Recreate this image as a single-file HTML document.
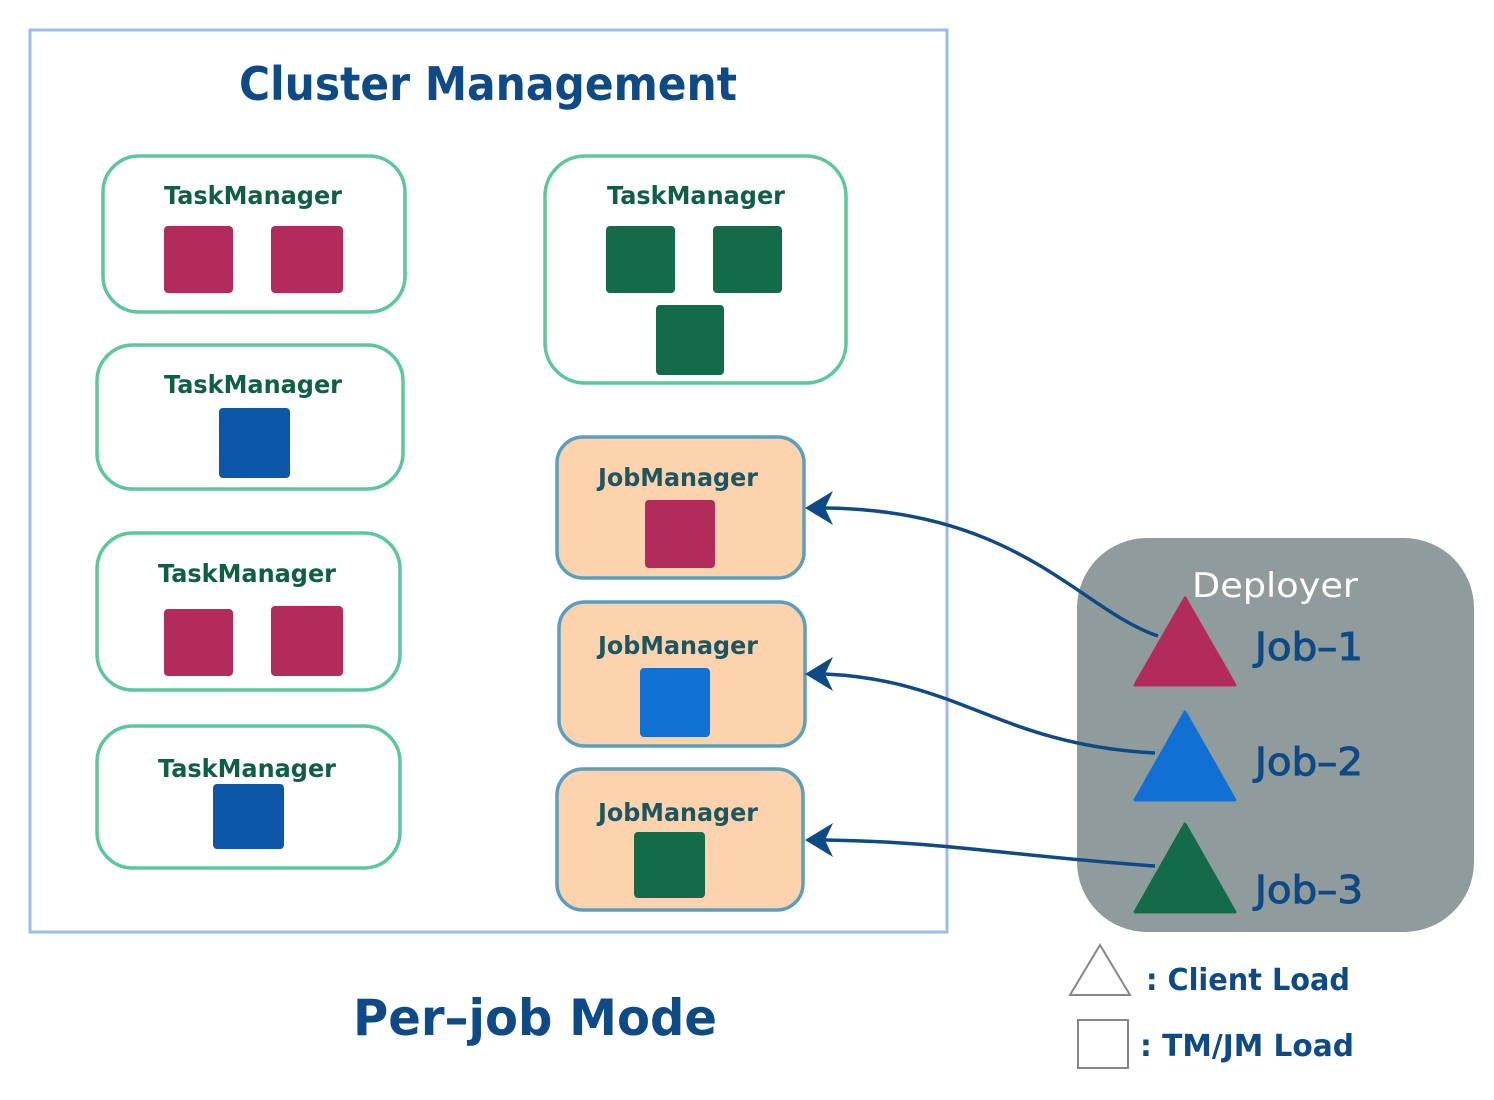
<!DOCTYPE html>
<html><head><meta charset="utf-8"><style>html,body{margin:0;padding:0;background:#fff;}svg{display:block}</style></head>
<body>
<svg width="1494" height="1100" viewBox="0 0 1494 1100" xmlns="http://www.w3.org/2000/svg" font-family="'DejaVu Sans','Liberation Sans',sans-serif" font-weight="bold">
<rect x="30" y="30" width="917" height="902" fill="#fff" stroke="#9bbcee" stroke-width="3"/>
<text x="488" y="100" text-anchor="middle" font-size="46" fill="#0d4a86" textLength="498" lengthAdjust="spacingAndGlyphs">Cluster Management</text>

<g fill="#fff" stroke="#5cc79d" stroke-width="3.5">
<rect x="103" y="156" width="302" height="156" rx="36"/>
<rect x="97" y="345" width="306" height="144" rx="36"/>
<rect x="97" y="533" width="303" height="157" rx="36"/>
<rect x="97" y="726" width="303" height="142" rx="36"/>
<rect x="545" y="156" width="301" height="227" rx="40"/>
</g>
<g fill="#fdd3ad" stroke="#5b9ebe" stroke-width="3.5">
<rect x="557" y="437" width="247" height="141" rx="26"/>
<rect x="559" y="602" width="246" height="144" rx="26"/>
<rect x="557" y="769" width="246" height="141" rx="26"/>
</g>
<g font-size="25" fill="#0f5f42" text-anchor="middle">
<text x="253" y="204" textLength="178" lengthAdjust="spacingAndGlyphs">TaskManager</text>
<text x="253" y="393" textLength="178" lengthAdjust="spacingAndGlyphs">TaskManager</text>
<text x="247" y="582" textLength="178" lengthAdjust="spacingAndGlyphs">TaskManager</text>
<text x="247" y="777" textLength="178" lengthAdjust="spacingAndGlyphs">TaskManager</text>
<text x="696" y="204" textLength="178" lengthAdjust="spacingAndGlyphs">TaskManager</text>
</g>
<g font-size="25" fill="#1d5560" text-anchor="middle">
<text x="678" y="486" textLength="160" lengthAdjust="spacingAndGlyphs">JobManager</text>
<text x="678" y="654" textLength="160" lengthAdjust="spacingAndGlyphs">JobManager</text>
<text x="678" y="821" textLength="160" lengthAdjust="spacingAndGlyphs">JobManager</text>
</g>
<g fill="#b32b5a">
<rect x="164" y="226" width="69" height="67" rx="4"/>
<rect x="271" y="226" width="72" height="67" rx="4"/>
<rect x="164" y="609" width="69" height="67" rx="4"/>
<rect x="271" y="606" width="72" height="70" rx="4"/>
<rect x="645" y="500" width="70" height="68" rx="4"/>
</g>
<g fill="#0d57a8">
<rect x="219" y="408" width="71" height="70" rx="4"/>
<rect x="213" y="784" width="71" height="65" rx="4"/>
</g>
<rect x="640" y="668" width="70" height="69" rx="4" fill="#1170d4"/>
<g fill="#136b4a">
<rect x="606" y="226" width="69" height="67" rx="4"/>
<rect x="713" y="226" width="69" height="67" rx="4"/>
<rect x="656" y="305" width="68" height="70" rx="4"/>
<rect x="634" y="832" width="71" height="66" rx="4"/>
</g>

<rect x="1077" y="538" width="397" height="394" rx="70" fill="#8f9c9b"/>
<text x="1275" y="597" text-anchor="middle" font-size="34" font-weight="normal" fill="#fff" textLength="166" lengthAdjust="spacingAndGlyphs">Deployer</text>
<polygon points="1185,598 1235,685 1135,685" fill="#b32b5a" stroke="#b32b5a" stroke-width="3" stroke-linejoin="round"/>
<polygon points="1185,712 1235,800 1135,800" fill="#1170d4" stroke="#1170d4" stroke-width="3" stroke-linejoin="round"/>
<polygon points="1185,824 1235,912 1135,912" fill="#136b4a" stroke="#136b4a" stroke-width="3" stroke-linejoin="round"/>
<g font-size="38" font-weight="normal" fill="#0d4a86" stroke="#0d4a86" stroke-width="1">
<text x="1255" y="660" textLength="108" lengthAdjust="spacingAndGlyphs">Job–1</text>
<text x="1255" y="775" textLength="108" lengthAdjust="spacingAndGlyphs">Job–2</text>
<text x="1255" y="903" textLength="108" lengthAdjust="spacingAndGlyphs">Job–3</text>
</g>

<g fill="none" stroke="#0d4a86" stroke-width="3.5">
<path d="M1158,636 C1080,610 1020,510 825,508"/>
<path d="M1155,753 C1000,745 960,680 825,674"/>
<path d="M1155,866 C1000,855 950,842 825,840"/>
</g>
<g fill="#0d4a86">
<path d="M805,508 L833,491 L825,508 L833,525 Z"/>
<path d="M805,674 L833,657 L825,674 L833,691 Z"/>
<path d="M805,840 L833,823 L825,840 L833,857 Z"/>
</g>

<polygon points="1100,945 1130,995 1070,995" fill="#fff" stroke="#888" stroke-width="2"/>
<rect x="1078" y="1020" width="50" height="48" fill="#fff" stroke="#888" stroke-width="2"/>
<g font-size="30" fill="#0d4a86">
<text x="1146" y="990" textLength="204" lengthAdjust="spacingAndGlyphs">: Client Load</text>
<text x="1140" y="1056" textLength="214" lengthAdjust="spacingAndGlyphs">: TM/JM Load</text>
</g>
<text x="535" y="1035" text-anchor="middle" font-size="50" fill="#0d4a86" textLength="364" lengthAdjust="spacingAndGlyphs">Per–job Mode</text>
</svg>
</body></html>
